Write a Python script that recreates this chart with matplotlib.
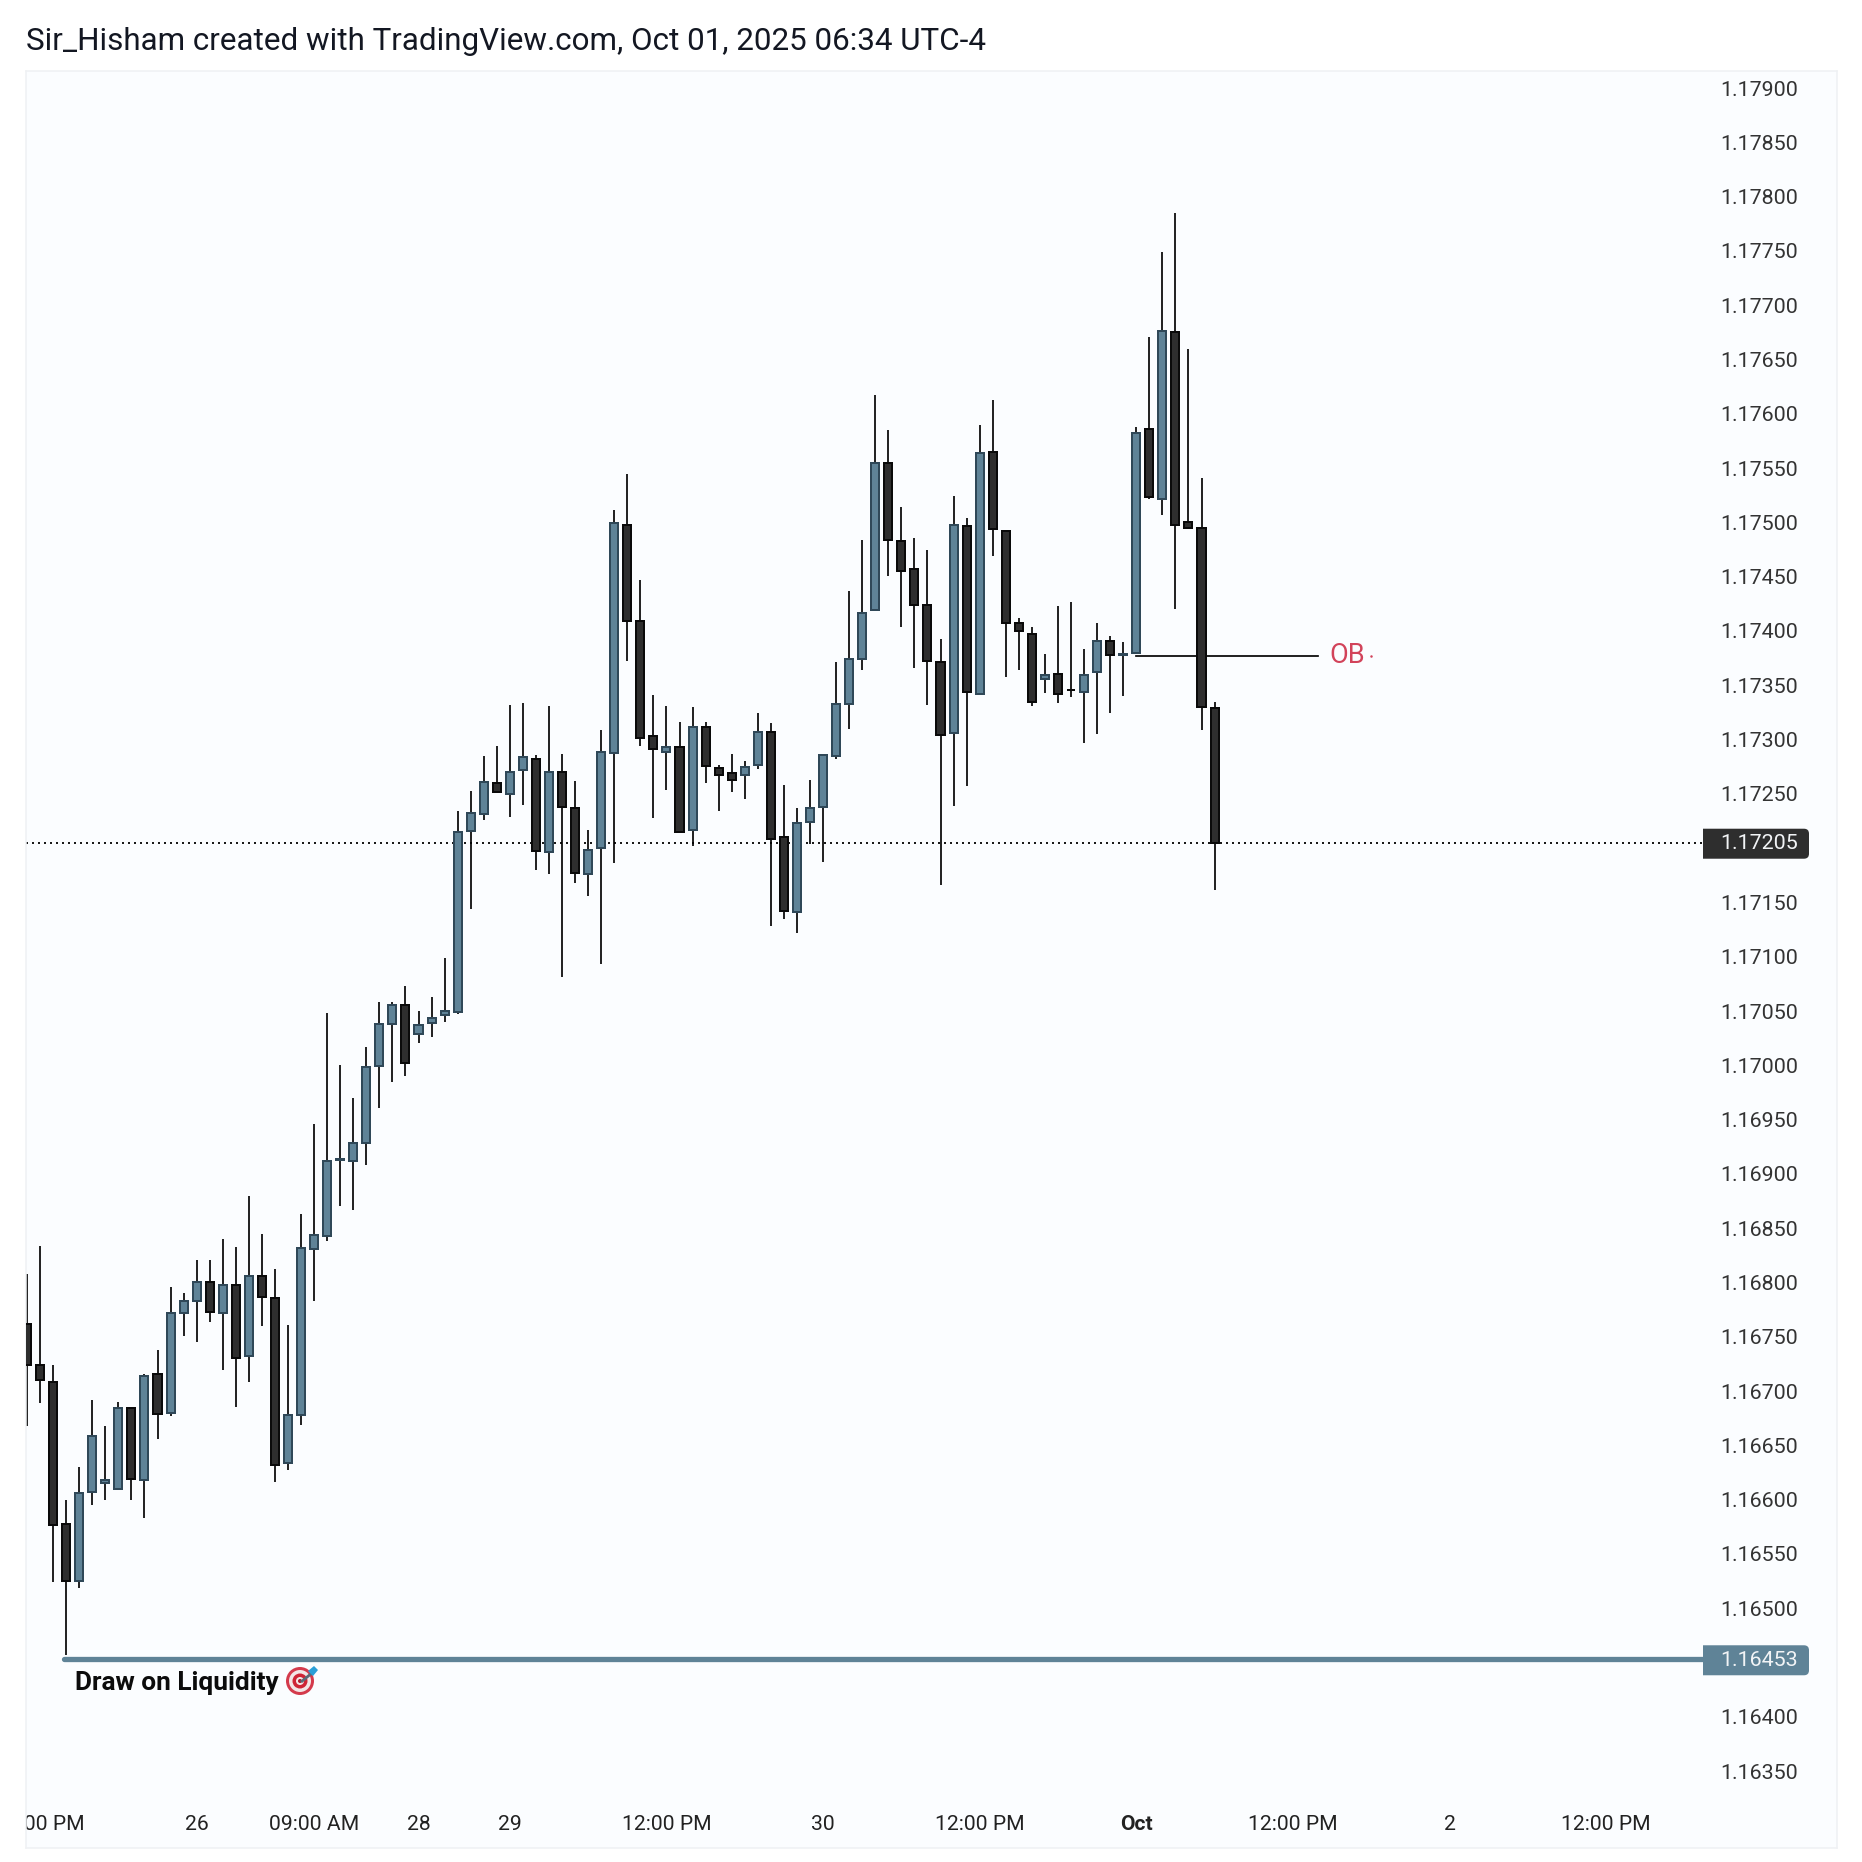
import matplotlib
matplotlib.use("Agg")
import matplotlib.pyplot as plt
from matplotlib.patches import Circle, PathPatch, Polygon
from matplotlib.path import Path

plt.rcParams['font.family'] = ['Roboto', 'DejaVu Sans']

opens = [1.16762, 1.16724, 1.16708, 1.16578, 1.16525, 1.16607, 1.16615, 1.16610, 1.16684, 1.16618,
         1.16716, 1.16680, 1.16772, 1.16783, 1.16800, 1.16772, 1.16798, 1.16732, 1.16806, 1.16786,
         1.16634, 1.16678, 1.16831, 1.16843, 1.16913, 1.16912, 1.16928, 1.16999, 1.17038, 1.17056,
         1.17029, 1.17039, 1.17046, 1.17049, 1.17216, 1.17231, 1.17260, 1.17250, 1.17272, 1.17282,
         1.17196, 1.17270, 1.17237, 1.17176, 1.17200, 1.17288, 1.17498, 1.17409, 1.17303, 1.17289,
         1.17293, 1.17217, 1.17312, 1.17274, 1.17269, 1.17267, 1.17277, 1.17307, 1.17210, 1.17141,
         1.17224, 1.17238, 1.17285, 1.17333, 1.17374, 1.17419, 1.17555, 1.17483, 1.17457, 1.17424,
         1.17371, 1.17306, 1.17497, 1.17342, 1.17565, 1.17492, 1.17407, 1.17397, 1.17356, 1.17360,
         1.17346, 1.17344, 1.17362, 1.17391, 1.17378, 1.17380, 1.17586, 1.17522, 1.17675, 1.17500,
         1.17495, 1.17329]
highs = [1.16808, 1.16834, 1.16724, 1.16600, 1.16630, 1.16692, 1.16668, 1.16690, 1.16684, 1.16716,
         1.16738, 1.16796, 1.16790, 1.16821, 1.16821, 1.16840, 1.16833, 1.16880, 1.16845, 1.16812,
         1.16761, 1.16863, 1.16946, 1.17048, 1.17000, 1.16970, 1.17017, 1.17058, 1.17058, 1.17073,
         1.17050, 1.17063, 1.17099, 1.17234, 1.17253, 1.17285, 1.17294, 1.17332, 1.17334, 1.17286,
         1.17331, 1.17287, 1.17262, 1.17217, 1.17309, 1.17511, 1.17545, 1.17447, 1.17341, 1.17331,
         1.17316, 1.17330, 1.17316, 1.17277, 1.17287, 1.17280, 1.17324, 1.17315, 1.17258, 1.17237,
         1.17263, 1.17287, 1.17371, 1.17437, 1.17484, 1.17617, 1.17585, 1.17514, 1.17486, 1.17475,
         1.17393, 1.17524, 1.17504, 1.17590, 1.17613, 1.17493, 1.17412, 1.17404, 1.17379, 1.17423,
         1.17427, 1.17383, 1.17407, 1.17395, 1.17390, 1.17588, 1.17671, 1.17749, 1.17785, 1.17660,
         1.17541, 1.17335]
lows = [1.16668, 1.16689, 1.16524, 1.16457, 1.16519, 1.16595, 1.16600, 1.16609, 1.16600, 1.16583,
        1.16656, 1.16677, 1.16751, 1.16745, 1.16764, 1.16719, 1.16685, 1.16708, 1.16760, 1.16616,
        1.16627, 1.16669, 1.16783, 1.16838, 1.16870, 1.16867, 1.16908, 1.16961, 1.16985, 1.16990,
        1.17021, 1.17026, 1.17040, 1.17047, 1.17144, 1.17226, 1.17252, 1.17229, 1.17240, 1.17180,
        1.17176, 1.17081, 1.17168, 1.17156, 1.17093, 1.17186, 1.17372, 1.17294, 1.17228, 1.17254,
        1.17214, 1.17202, 1.17260, 1.17234, 1.17252, 1.17245, 1.17273, 1.17128, 1.17135, 1.17122,
        1.17204, 1.17187, 1.17282, 1.17310, 1.17364, 1.17419, 1.17451, 1.17404, 1.17366, 1.17332,
        1.17166, 1.17239, 1.17257, 1.17341, 1.17469, 1.17358, 1.17364, 1.17331, 1.17343, 1.17334,
        1.17339, 1.17297, 1.17305, 1.17324, 1.17340, 1.17379, 1.17522, 1.17507, 1.17420, 1.17495,
        1.17309, 1.17161]
closes = [1.16724, 1.16710, 1.16577, 1.16525, 1.16606, 1.16659, 1.16618, 1.16684, 1.16619, 1.16714,
          1.16679, 1.16772, 1.16783, 1.16800, 1.16773, 1.16798, 1.16730, 1.16806, 1.16787, 1.16632,
          1.16678, 1.16832, 1.16844, 1.16912, 1.16914, 1.16928, 1.16998, 1.17038, 1.17056, 1.17002,
          1.17037, 1.17044, 1.17050, 1.17215, 1.17232, 1.17261, 1.17252, 1.17270, 1.17284, 1.17197,
          1.17270, 1.17238, 1.17177, 1.17198, 1.17289, 1.17499, 1.17409, 1.17301, 1.17291, 1.17293,
          1.17215, 1.17312, 1.17276, 1.17267, 1.17263, 1.17275, 1.17307, 1.17208, 1.17142, 1.17223,
          1.17237, 1.17286, 1.17333, 1.17374, 1.17417, 1.17555, 1.17484, 1.17455, 1.17424, 1.17372,
          1.17304, 1.17498, 1.17344, 1.17564, 1.17494, 1.17407, 1.17400, 1.17335, 1.17359, 1.17342,
          1.17346, 1.17359, 1.17391, 1.17378, 1.17379, 1.17582, 1.17523, 1.17676, 1.17498, 1.17495,
          1.17330, 1.17205]

price_ticks = [1.16350, 1.16400, 1.16500, 1.16550, 1.16600, 1.16650, 1.16700, 1.16750, 1.16800,
               1.16850, 1.16900, 1.16950, 1.17000, 1.17050, 1.17100, 1.17150, 1.17250, 1.17300,
               1.17350, 1.17400, 1.17450, 1.17500, 1.17550, 1.17600, 1.17650, 1.17700, 1.17750,
               1.17800, 1.17850, 1.17900]
time_positions = [1, 13, 22, 30, 37, 49, 61, 73, 85, 97, 109, 121]
time_labels = ['12:00 PM', '26', '09:00 AM', '28', '29', '12:00 PM', '30', '12:00 PM', 'Oct',
               '12:00 PM', '2', '12:00 PM']
last_price = 1.17205
liquidity_price = 1.16453
ob_price = 1.17377
ob_start = 85

BLUE = '#5f8397'
BLUE_EDGE = '#2f4858'
DARK = '#2e2e2e'
DARK_EDGE = '#0a0a0a'
BG = '#fbfdff'
TICK = '#333333'

W, H = 1862, 1862
L, R, T, B = 26, 1837, 71, 1848
STEP = 13.05
PX = 0.72  # 1 px in points at dpi 100

fig = plt.figure(figsize=(W / 100, H / 100), dpi=100, facecolor='white')
ax = fig.add_axes([L / W, 1 - B / H, (R - L) / W, (B - T) / H], facecolor=BG)
ax.set_xlim((L - 27) / STEP, (R - 27) / STEP)
ax.set_ylim(1.162792, 1.179157)
for s in ax.spines.values():
    s.set_color('#eff1f4')
    s.set_linewidth(1.5 * PX)


def xval(px):
    return (px - 27) / STEP


# last price line goes under the candles
ax.plot([xval(L), xval(1703)], [last_price, last_price], color='#1a1a1a', lw=2 * PX,
        linestyle=(0, (1, 2)), zorder=1)

x = list(range(len(opens)))
ax.vlines(x, lows, highs, color='black', lw=1.7 * PX, zorder=2)
for i in x:
    up = closes[i] > opens[i]
    ax.bar(i, abs(closes[i] - opens[i]), bottom=min(opens[i], closes[i]), width=0.62,
           facecolor=BLUE if up else DARK, edgecolor=BLUE_EDGE if up else DARK_EDGE,
           linewidth=2 * PX, zorder=3)

ax.plot([xval(64), xval(1703)], [liquidity_price, liquidity_price], color=BLUE, lw=5.3 * PX,
        solid_capstyle='round', zorder=4)
ax.plot([ob_start, xval(1318)], [ob_price, ob_price], color='black', lw=1.7 * PX, zorder=2.5)
ax.text(xval(1329), ob_price, 'OB', color='#d2435a', fontsize=19.5, va='center', ha='left')
ax.plot([xval(1371)], [ob_price], marker='o', ms=0.8, color='#d2435a', zorder=2)
ax.text(xval(75), 1.16453 - 23.5 / 108590, 'Draw on Liquidity', color='#0c0c0c', fontsize=18.9,
        fontweight='bold', va='center', ha='left')

ax.yaxis.tick_right()
ax.set_yticks(price_ticks)
ax.set_yticklabels(['%.5f' % p for p in price_ticks])
ax.tick_params(axis='y', length=0, pad=-39 * PX, labelsize=15.4, labelcolor=TICK)
for lab in ax.get_yticklabels():
    lab.set_ha('right')

ax.set_xticks(time_positions)
ax.set_xticklabels(time_labels)
ax.tick_params(axis='x', length=0, pad=-24 * PX, labelsize=15.2, labelcolor='#222222')
for lab in ax.get_xticklabels():
    lab.set_va('center')
    lab.set_clip_on(True)
    lab.set_clip_box(ax.bbox)
    if lab.get_text() == 'Oct':
        lab.set_fontweight('bold')

# overlay in pixel coordinates for title, price tags and the target
over = fig.add_axes([0, 0, 1, 1], facecolor='none')
over.set_xlim(0, W)
over.set_ylim(H, 0)
over.axis('off')
over.text(26, 42, 'Sir_Hisham created with TradingView.com, Oct 01, 2025 06:34 UTC-4',
          fontsize=22.6, color='#131722', va='center', ha='left')


def price_tag(price, color):
    # square on the left, rounded on the right
    yc = H - ax.transData.transform((0, price))[1] + 1
    x0, x1, y0, y1, r = 1703, 1809, yc - 15, yc + 15, 5
    verts = [(x0, y0), (x1 - r, y0), (x1, y0), (x1, y0 + r), (x1, y1 - r), (x1, y1), (x1 - r, y1),
             (x0, y1), (x0, y0)]
    codes = [Path.MOVETO, Path.LINETO, Path.CURVE3, Path.CURVE3, Path.LINETO, Path.CURVE3,
             Path.CURVE3, Path.LINETO, Path.CLOSEPOLY]
    over.add_patch(PathPatch(Path(verts, codes), facecolor=color, edgecolor='none'))
    over.text(1798, yc, '%.5f' % price, color='#f2f4f6', fontsize=15.4, va='center', ha='right')


price_tag(last_price, DARK)
price_tag(liquidity_price, BLUE)

# target emoji drawn by hand, no emoji font here
cx, cy = 300, 1681
for r, c in [(14, '#d43a4c'), (11, '#f3e6e6'), (7.5, '#cf2435'), (4, '#f3e6e6'), (2, '#b01c2c')]:
    over.add_patch(Circle((cx, cy), r, facecolor=c, edgecolor='none'))
over.add_patch(Polygon([(300, 1681), (311, 1672), (313, 1674), (302, 1683)], facecolor='#5a6a78', edgecolor='none'))
over.add_patch(Polygon([(308, 1671), (314, 1666), (316, 1668), (318, 1670), (313, 1676)], facecolor='#2a9fd8', edgecolor='none'))

fig.savefig('out.png', dpi=100, facecolor='white')
